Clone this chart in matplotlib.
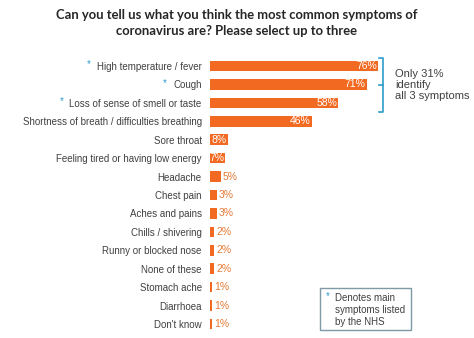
import matplotlib.pyplot as plt
from matplotlib.patches import Rectangle

symptoms = ['High temperature / fever', 'Cough', 'Loss of sense of smell or taste',
            'Shortness of breath / difficulties breathing', 'Sore throat',
            'Feeling tired or having low energy', 'Headache', 'Chest pain',
            'Aches and pains', 'Chills / shivering', 'Runny or blocked nose',
            'None of these', 'Stomach ache', 'Diarrhoea', "Don't know"]
values = [76, 71, 58, 46, 8, 7, 5, 3, 3, 2, 2, 2, 1, 1, 1]
nhs_main = [True, True, True] + [False] * 12

orange = '#f26a21'
blue = '#2e9ccb'
grey = '#404040'

plt.rcParams['font.family'] = ['Liberation Sans', 'DejaVu Sans']

fig = plt.figure(figsize=(4.74, 3.38), dpi=100)
ax = fig.add_axes([210 / 474, 0.0142, 221 / 474, 0.8178])

y = list(range(len(symptoms)))
ax.barh(y, values, height=0.58, color=orange)
ax.set_xlim(0, 100)
ax.set_ylim(len(symptoms) - 0.5, -0.5)
ax.set_yticks(y)
ax.set_yticklabels(symptoms, fontsize=7, color=grey)
ax.tick_params(axis='y', length=0, pad=6)
ax.set_xticks([])
for s in ax.spines.values():
    s.set_visible(False)

for i, v in enumerate(values):
    if v >= 7:
        ax.text(v - 0.5, i, f'{v}%', ha='right', va='center', fontsize=7.5,
                color='white')
    else:
        ax.text(v + 0.8, i, f'{v}%', ha='left', va='center', fontsize=7.5,
                color='#e57a35')

# blue asterisks in front of the NHS symptoms
fig.canvas.draw()
r = fig.canvas.get_renderer()
for lab, star in zip(ax.get_yticklabels(), nhs_main):
    if star:
        bb = lab.get_window_extent(r)
        fig.text((bb.x0 - 6) / 474, (bb.y0 + bb.y1) / 2 / 338 + 0.008, '*',
                 ha='right', va='center', fontsize=7, color=blue)

fig.text(0.5, 1 - 23 / 338, 'Can you tell us what you think the most common symptoms of\n'
         'coronavirus are? Please select up to three',
         ha='center', va='center', fontsize=9.4, fontweight='bold',
         color='#262626', family=['Lato', 'DejaVu Sans'], linespacing=1.4)

# bracket around the top three bars
bx = 383 / 474
y0, y1, ym = 1 - 58 / 338, 1 - 112 / 338, 1 - 85 / 338
fig.lines.append(plt.Line2D([bx - 0.008, bx, bx, bx - 0.008], [y0, y0, y1, y1],
                            transform=fig.transFigure, color=blue, lw=1.2))
fig.lines.append(plt.Line2D([bx - 0.008, bx], [ym, ym],
                            transform=fig.transFigure, color=blue, lw=1.2))
fig.text(395 / 474, ym, 'Only 31%\nidentify\nall 3 symptoms', ha='left', va='center',
         fontsize=8, color=grey, linespacing=1.15)

# footnote box
fig.patches.append(Rectangle((320 / 474, 1 - 330 / 338), 91 / 474, 42 / 338,
                             transform=fig.transFigure, fill=False,
                             edgecolor='#7f9aa6', lw=1))
fig.text(326 / 474, 1 - 296 / 338, '*', ha='left', va='center', fontsize=7, color=blue)
fig.text(335 / 474, 1 - 310 / 338, 'Denotes main\nsymptoms listed\nby the NHS',
         ha='left', va='center', fontsize=7, color=grey, linespacing=1.3)

fig.savefig('out.png', dpi=100)
